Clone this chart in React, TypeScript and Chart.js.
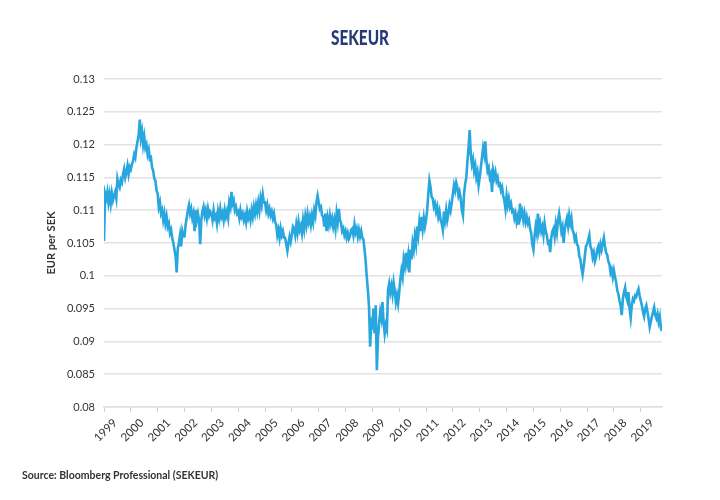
import React, { useEffect, useRef } from "react";
import { Chart, registerables } from "chart.js";

Chart.register(...registerables);

const TITLE = "SEKEUR";
const Y_TITLE = "EUR per SEK";
const SOURCE = "Source: Bloomberg Professional (SEKEUR)";
const FONT = "Lato, 'Open Sans', sans-serif";

const START_YEAR = 1999;
const POINTS_PER_YEAR = 24; // semi-monthly readings

const y1999 = [0.1053, 0.1125, 0.1118, 0.1128, 0.1112, 0.1124, 0.1110, 0.1126, 0.1115, 0.1122, 0.1128, 0.1118, 0.1148, 0.1140, 0.1135, 0.1146, 0.1142, 0.1155, 0.1163, 0.1150, 0.1158, 0.1168, 0.1155, 0.1166];
const y2000 = [0.1162, 0.1170, 0.1175, 0.1185, 0.1180, 0.1195, 0.1205, 0.1215, 0.1238, 0.1210, 0.1220, 0.1200, 0.1212, 0.1195, 0.1200, 0.1185, 0.1192, 0.1178, 0.1180, 0.1165, 0.1160, 0.1148, 0.1145, 0.1130];
const y2001 = [0.1125, 0.1105, 0.1112, 0.1095, 0.1100, 0.1085, 0.1095, 0.1080, 0.1090, 0.1075, 0.1080, 0.1065, 0.1070, 0.1058, 0.1050, 0.1040, 0.1030, 0.1005, 0.1042, 0.1050, 0.1062, 0.1045, 0.1068, 0.1060];
const y2002 = [0.1060, 0.1078, 0.1088, 0.1100, 0.1108, 0.1095, 0.1102, 0.1088, 0.1095, 0.1068, 0.1100, 0.1085, 0.1095, 0.1085, 0.1048, 0.1085, 0.1098, 0.1105, 0.1092, 0.1100, 0.1088, 0.1102, 0.1092, 0.1098];
const y2003 = [0.1095, 0.1085, 0.1100, 0.1088, 0.1092, 0.1080, 0.1098, 0.1088, 0.1102, 0.1090, 0.1096, 0.1085, 0.1100, 0.1090, 0.1098, 0.1088, 0.1112, 0.1105, 0.1128, 0.1110, 0.1115, 0.1100, 0.1105, 0.1095];
const y2004 = [0.1098, 0.1088, 0.1100, 0.1090, 0.1095, 0.1085, 0.1092, 0.1082, 0.1098, 0.1088, 0.1095, 0.1085, 0.1100, 0.1090, 0.1105, 0.1095, 0.1108, 0.1098, 0.1112, 0.1100, 0.1118, 0.1108, 0.1124, 0.1112];
const y2005 = [0.1112, 0.1100, 0.1108, 0.1095, 0.1102, 0.1092, 0.1098, 0.1088, 0.1095, 0.1082, 0.1078, 0.1062, 0.1070, 0.1058, 0.1072, 0.1062, 0.1068, 0.1058, 0.1058, 0.1048, 0.1038, 0.1050, 0.1060, 0.1052];
const y2006 = [0.1062, 0.1075, 0.1072, 0.1062, 0.1078, 0.1066, 0.1082, 0.1070, 0.1076, 0.1065, 0.1085, 0.1072, 0.1090, 0.1078, 0.1094, 0.1082, 0.1090, 0.1078, 0.1092, 0.1082, 0.1100, 0.1092, 0.1112, 0.1122];
const y2007 = [0.1112, 0.1102, 0.1105, 0.1092, 0.1090, 0.1075, 0.1095, 0.1068, 0.1088, 0.1078, 0.1092, 0.1080, 0.1088, 0.1075, 0.1085, 0.1072, 0.1095, 0.1082, 0.1102, 0.1085, 0.1080, 0.1068, 0.1072, 0.1062];
const y2008 = [0.1068, 0.1058, 0.1065, 0.1056, 0.1060, 0.1070, 0.1072, 0.1062, 0.1078, 0.1066, 0.1072, 0.1060, 0.1070, 0.1060, 0.1068, 0.1058, 0.1055, 0.1040, 0.1022, 0.0998, 0.0978, 0.0952, 0.0892, 0.0930];
const y2009 = [0.0925, 0.0950, 0.0912, 0.0955, 0.0856, 0.0905, 0.0928, 0.0945, 0.0935, 0.0960, 0.0930, 0.0912, 0.0925, 0.0918, 0.0978, 0.0988, 0.0975, 0.0985, 0.0972, 0.0990, 0.0978, 0.0960, 0.0970, 0.0958];
const y2010 = [0.0975, 0.0995, 0.1008, 0.0998, 0.1025, 0.1015, 0.1035, 0.1020, 0.1032, 0.1005, 0.1040, 0.1025, 0.1050, 0.1040, 0.1060, 0.1048, 0.1075, 0.1062, 0.1082, 0.1068, 0.1090, 0.1072, 0.1088, 0.1075];
const y2011 = [0.1085, 0.1100, 0.1125, 0.1145, 0.1135, 0.1120, 0.1118, 0.1105, 0.1110, 0.1098, 0.1105, 0.1090, 0.1098, 0.1085, 0.1080, 0.1070, 0.1098, 0.1085, 0.1100, 0.1085, 0.1095, 0.1108, 0.1100, 0.1112];
const y2012 = [0.1125, 0.1138, 0.1130, 0.1142, 0.1135, 0.1122, 0.1128, 0.1118, 0.1100, 0.1092, 0.1125, 0.1140, 0.1150, 0.1175, 0.1195, 0.1222, 0.1185, 0.1170, 0.1178, 0.1160, 0.1168, 0.1150, 0.1158, 0.1138];
const y2013 = [0.1150, 0.1165, 0.1180, 0.1195, 0.1185, 0.1205, 0.1175, 0.1160, 0.1165, 0.1150, 0.1155, 0.1128, 0.1160, 0.1150, 0.1158, 0.1145, 0.1150, 0.1138, 0.1140, 0.1130, 0.1135, 0.1122, 0.1115, 0.1102];
const y2014 = [0.1122, 0.1108, 0.1118, 0.1105, 0.1110, 0.1098, 0.1100, 0.1088, 0.1095, 0.1082, 0.1090, 0.1078, 0.1110, 0.1092, 0.1098, 0.1085, 0.1095, 0.1082, 0.1090, 0.1080, 0.1085, 0.1072, 0.1065, 0.1048];
const y2015 = [0.1040, 0.1060, 0.1075, 0.1065, 0.1095, 0.1070, 0.1080, 0.1068, 0.1075, 0.1062, 0.1080, 0.1068, 0.1062, 0.1050, 0.1052, 0.1036, 0.1058, 0.1068, 0.1072, 0.1060, 0.1078, 0.1066, 0.1085, 0.1095];
const y2016 = [0.1082, 0.1068, 0.1075, 0.1050, 0.1070, 0.1080, 0.1088, 0.1076, 0.1092, 0.1080, 0.1088, 0.1070, 0.1065, 0.1055, 0.1060, 0.1048, 0.1045, 0.1030, 0.1025, 0.1012, 0.1002, 0.1015, 0.1030, 0.1045];
const y2017 = [0.1048, 0.1055, 0.1062, 0.1045, 0.1040, 0.1028, 0.1035, 0.1022, 0.1028, 0.1040, 0.1045, 0.1035, 0.1048, 0.1040, 0.1050, 0.1058, 0.1045, 0.1035, 0.1032, 0.1022, 0.1018, 0.1005, 0.1010, 0.0998];
const y2018 = [0.1008, 0.0998, 0.0990, 0.0978, 0.0972, 0.0962, 0.0955, 0.0940, 0.0965, 0.0975, 0.0982, 0.0968, 0.0962, 0.0975, 0.0950, 0.0936, 0.0955, 0.0965, 0.0962, 0.0970, 0.0968, 0.0975, 0.0980, 0.0970];
const y2019 = [0.0962, 0.0955, 0.0945, 0.0938, 0.0950, 0.0955, 0.0945, 0.0935, 0.0922, 0.0930, 0.0938, 0.0945, 0.0952, 0.0940, 0.0935, 0.0942, 0.0930, 0.0938, 0.0920, 0.0916];

const yearlySeries = [y1999, y2000, y2001, y2002, y2003, y2004, y2005, y2006, y2007, y2008, y2009, y2010, y2011, y2012, y2013, y2014, y2015, y2016, y2017, y2018, y2019];

const yearTicks = [1999, 2000, 2001, 2002, 2003, 2004, 2005, 2006, 2007, 2008, 2009, 2010, 2011, 2012, 2013, 2014, 2015, 2016, 2017, 2018, 2019];
const yTicks = [0.08, 0.085, 0.09, 0.095, 0.1, 0.105, 0.11, 0.115, 0.12, 0.125, 0.13];
const yTickLabels = ["0.08", "0.085", "0.09", "0.095", "0.1", "0.105", "0.11", "0.115", "0.12", "0.125", "0.13"];

function buildPoints() {
  const pts: { x: number; y: number }[] = [];
  yearlySeries.forEach((vals, i) => {
    vals.forEach((v, j) => {
      pts.push({ x: START_YEAR + i + j / POINTS_PER_YEAR, y: v });
    });
  });
  return pts;
}

const textPlugin = {
  id: "textPlugin",
  afterDraw(chart: any) {
    const ctx = chart.ctx;
    ctx.save();
    ctx.fillStyle = "#263a78";
    ctx.font = `900 20px ${FONT}`;
    ctx.textAlign = "center";
    ctx.textBaseline = "alphabetic";
    const w = ctx.measureText(TITLE).width;
    const sx = Math.min(1, 58 / w);
    ctx.translate(360, 45);
    ctx.scale(sx, 1);
    ctx.fillText(TITLE, 0, 0);
    ctx.restore();

    ctx.save();
    ctx.fillStyle = "#333333";
    ctx.font = `bold 10.5px ${FONT}`;
    ctx.textAlign = "left";
    ctx.textBaseline = "alphabetic";
    ctx.fillText(SOURCE, 22, 479);
    ctx.restore();
  },
};

export default function App() {
  const ref = useRef<HTMLCanvasElement | null>(null);

  useEffect(() => {
    document.body.style.margin = "0";
    const canvas = ref.current;
    if (!canvas) return;
    const points = buildPoints();
    const lastX = points[points.length - 1].x;
    const chart = new Chart(canvas, {
      type: "line",
      data: {
        datasets: [
          {
            data: points,
            borderColor: "#28a6de",
            borderWidth: 2.6,
            pointRadius: 0,
            tension: 0,
            fill: false,
          },
        ],
      },
      options: {
        animation: false,
        responsive: false,
        devicePixelRatio: 1,
        layout: { padding: { left: 45, right: 58, top: 79, bottom: 33 } },
        plugins: {
          legend: { display: false },
          tooltip: { enabled: false },
          title: { display: false },
        },
        scales: {
          x: {
            type: "linear",
            min: START_YEAR,
            max: lastX,
            afterBuildTicks: (s: any) => {
              s.ticks = yearTicks.map((v) => ({ value: v }));
            },
            afterFit: (s: any) => {
              s.height = 60;
            },
            grid: {
              drawOnChartArea: false,
              drawTicks: true,
              tickLength: 5,
              color: "#cfcfcf",
            },
            border: { display: true, color: "#e0e0e0", width: 1.5 },
            ticks: {
              autoSkip: false,
              minRotation: 45,
              maxRotation: 45,
              labelOffset: 11,
              padding: 4,
              color: "#333333",
              font: { family: FONT, size: 11.5 },
              callback: (v: any) => String(v),
            },
          },
          y: {
            min: 0.08,
            max: 0.13,
            afterBuildTicks: (s: any) => {
              s.ticks = yTicks.map((v) => ({ value: v }));
            },
            afterFit: (s: any) => {
              s.width = 59;
            },
            grid: { drawTicks: false, color: "#e2e2e2", lineWidth: 1.5 },
            border: { display: false },
            ticks: {
              padding: 9,
              color: "#333333",
              font: { family: FONT, size: 11 },
              callback: (v: any) => {
                const idx = yTicks.findIndex((t) => Math.abs(t - v) < 1e-9);
                return idx >= 0 ? yTickLabels[idx] : "";
              },
            },
            title: {
              display: true,
              text: Y_TITLE,
              color: "#333333",
              font: { family: FONT, size: 11, weight: "bold" },
              padding: 0,
            },
          },
        },
      },
      plugins: [textPlugin],
    });
    return () => chart.destroy();
  }, []);

  return (
    <div style={{ width: 720, height: 500, background: "#ffffff" }}>
      <canvas ref={ref} width={720} height={500} style={{ width: 720, height: 500, display: "block" }} />
    </div>
  );
}
